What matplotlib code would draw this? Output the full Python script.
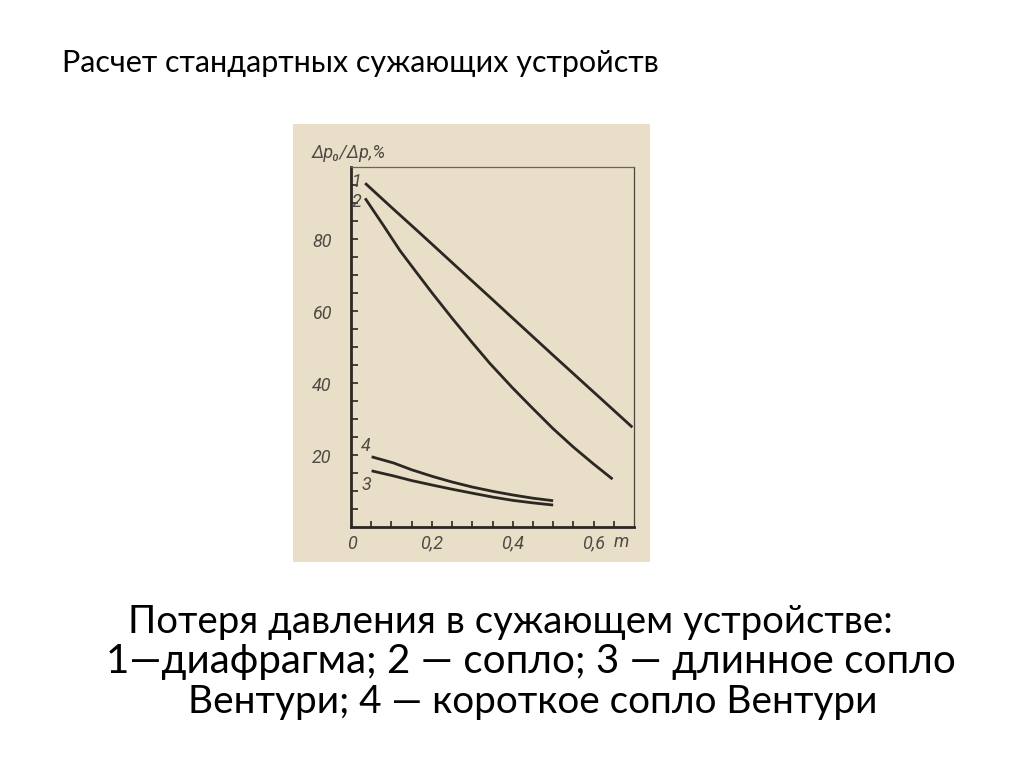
import matplotlib
matplotlib.use("Agg")
import matplotlib.pyplot as plt
from matplotlib import font_manager
import numpy as np

# ---------------- data ----------------
title = "Расчет стандартных сужающих устройств"
caption_lines = [
    "Потеря давления в сужающем устройстве:",
    "1—диафрагма; 2 — сопло; 3 — длинное сопло",
    "Вентури; 4 — короткое сопло Вентури",
]
y_label = "Δp₀/Δp,%"
x_name = "m"

m1 = [0.035, 0.10, 0.163, 0.20, 0.30, 0.343, 0.40, 0.467, 0.50, 0.60, 0.696]
v1 = [95.5, 88.8, 82.4, 78.6, 68.3, 63.9, 58.0, 51.1, 47.7, 37.5, 27.7]

m2 = [0.035, 0.08, 0.121, 0.162, 0.20, 0.25, 0.30, 0.343, 0.40, 0.449, 0.50, 0.55, 0.60, 0.647]
v2 = [91.3, 83.8, 76.8, 70.7, 65.1, 58.0, 51.2, 45.5, 38.6, 33.0, 27.3, 22.2, 17.5, 13.3]

m3 = [0.051, 0.105, 0.15, 0.203, 0.25, 0.30, 0.351, 0.40, 0.45, 0.50]
v3 = [15.6, 14.2, 12.9, 11.6, 10.5, 9.4, 8.3, 7.4, 6.7, 6.1]

m4 = [0.051, 0.105, 0.15, 0.203, 0.25, 0.30, 0.351, 0.40, 0.45, 0.50]
v4 = [19.5, 17.8, 15.9, 14.0, 12.5, 11.1, 9.9, 8.9, 8.0, 7.3]

curve_names = ["1", "2", "3", "4"]

x_ticklabels = ["0", "0,2", "0,4", "0,6"]
x_tickvals = [0.0, 0.2, 0.4, 0.6]
y_tickvals = [20, 40, 60, 80]
y_ticklabels = ["20", "40", "60", "80"]

# ---------------- fonts ----------------
avail = {f.name for f in font_manager.fontManager.ttflist}
def pick(*names):
    for n in names:
        if n in avail:
            return n
    return "DejaVu Sans"

text_font = pick("Lato", "Open Sans", "Noto Sans", "DejaVu Sans")
chart_font = pick("Liberation Sans Narrow", "Roboto", "DejaVu Sans")

W, H = 1024, 767
fig = plt.figure(figsize=(W / 100, H / 100), dpi=100)
fig.patch.set_facecolor("white")

def fx(px):
    return px / W

def fy(py):
    return 1 - py / H

# beige scanned panel
panel = fig.add_axes([fx(293), fy(562), fx(650) - fx(293), fy(124) - fy(562)])
panel.set_facecolor("#E9DEC8")
panel.set_xticks([]); panel.set_yticks([])
for s in panel.spines.values():
    s.set_visible(False)

ax = fig.add_axes([fx(351), fy(527), fx(634) - fx(351), fy(167) - fy(527)])
ax.set_facecolor("none")
ax.set_xlim(0, 0.7)
ax.set_ylim(0, 100)

ink = "#2b2722"
for xs, ys in [(m1, v1), (m2, v2), (m3, v3), (m4, v4)]:
    ax.plot(xs, ys, color=ink, lw=2.0, solid_capstyle="butt", solid_joinstyle="round")

ax.spines["left"].set_linewidth(2.0)
ax.spines["bottom"].set_linewidth(2.0)
ax.spines["left"].set_color(ink)
ax.spines["bottom"].set_color(ink)
ax.spines["top"].set_linewidth(0.9)
ax.spines["right"].set_linewidth(0.9)
ax.spines["top"].set_color("#6b655c")
ax.spines["right"].set_color("#4a453e")

ax.set_xticks(np.arange(0.05, 0.70, 0.05))
ax.set_yticks(np.arange(5, 100, 5))
ax.tick_params(axis="both", direction="in", length=5, width=1.2, color=ink,
               labelleft=False, labelbottom=False)
ax.tick_params(axis="x", length=4)

lab_col = "#4f4a43"
lab_kw = dict(fontfamily=chart_font, fontstyle="italic", color=lab_col, fontsize=13)

for xv, xl in zip(x_tickvals, x_ticklabels):
    ax.annotate(xl, (xv, 0), xytext=(0 if xv > 0 else 1, -12), textcoords="offset points",
                ha="center", va="center", **lab_kw)
ax.annotate(x_name, (0.7, 0), xytext=(-9, -11), textcoords="offset points",
            ha="center", va="center", **lab_kw)
for yv, yl in zip(y_tickvals, y_ticklabels):
    ax.annotate(yl, (0, yv), xytext=(-21, -2), textcoords="offset points",
                ha="center", va="center", **lab_kw)
ax.annotate(y_label, (0, 100), xytext=(-28, 10), textcoords="offset points",
            ha="left", va="center", **lab_kw)

# curve numbers
ax.annotate(curve_names[0], (0, v1[0]), xytext=(4, 1), textcoords="offset points",
            ha="center", va="center", **lab_kw)
ax.annotate(curve_names[1], (0, v2[0]), xytext=(4, -3), textcoords="offset points",
            ha="center", va="center", **lab_kw)
ax.annotate(curve_names[3], (0, v4[0]), xytext=(11, 8), textcoords="offset points",
            ha="center", va="center", **lab_kw)
ax.annotate(curve_names[2], (0, v3[0]), xytext=(11, -10), textcoords="offset points",
            ha="center", va="center", **lab_kw)

# ---------------- slide texts ----------------
def fit_text(x0, x1, ybase, s, size):
    t = fig.text(fx(x0), fy(ybase), s, ha="left", va="baseline",
                 fontfamily=text_font, fontsize=size, color="black")
    fig.canvas.draw()
    r = fig.canvas.get_renderer()
    w = t.get_window_extent(r).width
    t.set_fontsize(size * (x1 - x0) / w)
    return t

fit_text(62, 657, 72, title, 22)
fit_text(128, 890, 633, caption_lines[0], 26)
fit_text(106, 955, 673, caption_lines[1], 26)
fit_text(188, 877, 713, caption_lines[2], 26)

fig.savefig("out.png", dpi=100)
